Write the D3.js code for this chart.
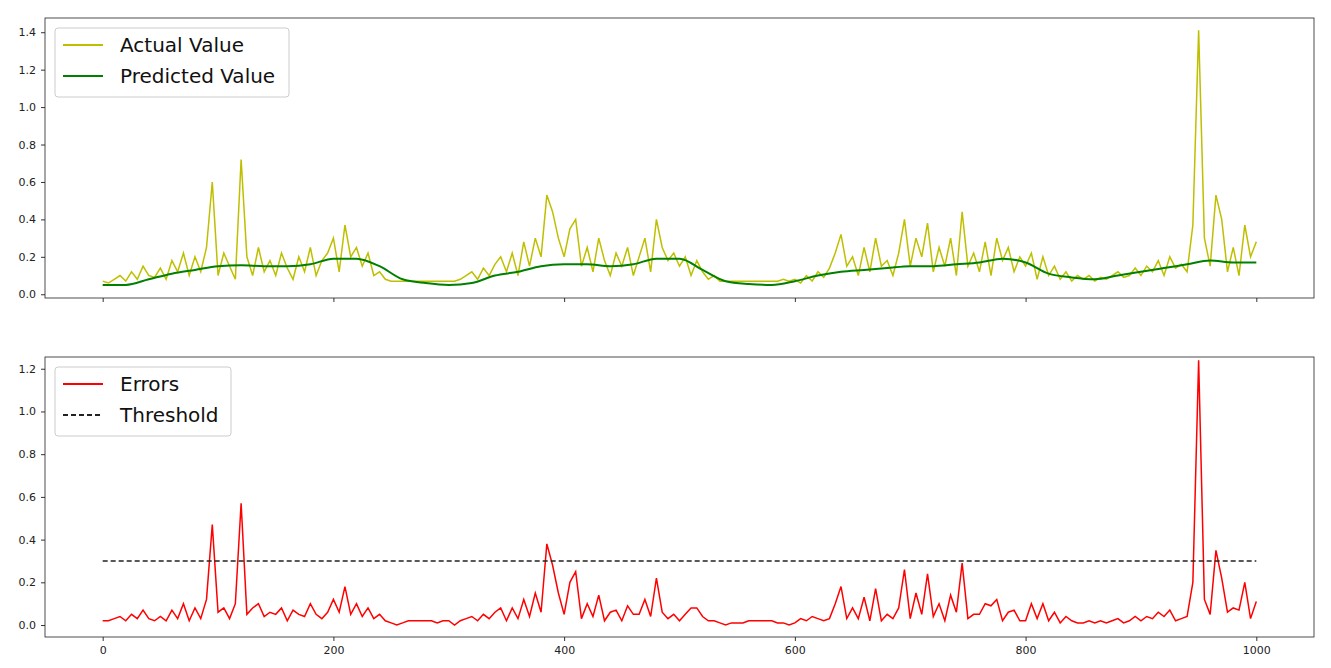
<!DOCTYPE html>
<html><head><meta charset="utf-8">
<script src="https://cdn.jsdelivr.net/npm/d3@7"></script>
<style>body{margin:0;background:#fff;font-family:"DejaVu Sans",sans-serif}</style>
</head><body><svg width="1331" height="668"></svg>
<script>
// values sampled every 5 steps (actual, errors) and every 20 steps (predicted)
const actual = [
.07,.06,.08,.1,.07,.12,.08,.15,.1,.09,
.14,.08,.18,.12,.22,.1,.2,.12,.25,.6,
.1,.22,.15,.08,.72,.2,.1,.25,.12,.18,
.1,.22,.14,.08,.2,.12,.25,.1,.18,.22,
.3,.12,.37,.2,.25,.15,.22,.1,.12,.08,
.07,.07,.07,.07,.07,.07,.07,.07,.07,.07,
.07,.07,.08,.1,.12,.08,.14,.1,.16,.2,
.12,.22,.1,.28,.15,.3,.2,.53,.44,.3,
.2,.35,.4,.15,.25,.12,.3,.18,.1,.22,
.15,.25,.1,.2,.3,.12,.4,.25,.18,.22,
.15,.2,.1,.18,.12,.08,.1,.07,.07,.07,
.07,.07,.07,.07,.07,.07,.07,.07,.08,.07,
.08,.06,.1,.07,.12,.09,.14,.22,.32,.15,
.2,.1,.25,.12,.3,.15,.18,.1,.22,.4,
.15,.3,.2,.38,.12,.25,.15,.3,.1,.44,
.15,.22,.12,.28,.1,.3,.18,.25,.12,.2,
.15,.22,.08,.2,.1,.15,.08,.12,.07,.1,
.08,.1,.07,.09,.08,.1,.12,.09,.1,.14,
.1,.15,.12,.18,.1,.2,.14,.16,.12,.37,
1.41,.3,.15,.53,.4,.12,.25,.1,.37,.2,
.28];
const predicted = [.05,.05,.08,.11,.13,.15,.155,.15,.15,.16,.19,.19,.15,.08,.06,.05,.06,.1,.12,.15,
.16,.16,.15,.16,.19,.19,.13,.07,.055,.05,.07,.1,.12,.13,.14,.15,.15,.16,.17,.19,
.17,.11,.09,.08,.1,.12,.14,.16,.18,.17,.17];
const errors = [
.02,.02,.03,.04,.02,.05,.03,.07,.03,.02,
.04,.02,.07,.03,.1,.02,.08,.03,.12,.47,
.06,.08,.03,.1,.57,.05,.08,.1,.04,.06,
.05,.08,.02,.07,.05,.04,.1,.05,.03,.06,
.12,.06,.18,.05,.1,.04,.08,.03,.05,.02,
.01,.0,.01,.02,.02,.02,.02,.02,.01,.02,
.02,.0,.02,.03,.04,.02,.05,.03,.06,.08,
.02,.08,.03,.12,.04,.15,.06,.38,.28,.15,
.05,.2,.25,.03,.1,.04,.14,.02,.06,.07,
.02,.09,.05,.05,.12,.04,.22,.06,.03,.05,
.02,.05,.08,.08,.04,.02,.02,.01,.0,.01,
.01,.01,.02,.02,.02,.02,.02,.01,.01,.0,
.01,.03,.02,.04,.03,.02,.03,.1,.18,.03,
.08,.03,.13,.02,.17,.02,.05,.03,.08,.26,
.03,.15,.05,.24,.04,.1,.02,.14,.06,.29,
.03,.05,.05,.1,.09,.12,.02,.06,.07,.02,
.02,.1,.03,.1,.02,.06,.01,.04,.02,.01,
.01,.02,.01,.02,.01,.02,.03,.01,.02,.04,
.02,.04,.03,.06,.04,.07,.02,.03,.04,.2,
1.24,.12,.05,.35,.22,.06,.08,.07,.2,.03,
.11];
const threshold = 0.3;
const xTicks = [0,200,400,600,800,1000];
const topTicks = [0,0.2,0.4,0.6,0.8,1.0,1.2,1.4];
const botTicks = [0,0.2,0.4,0.6,0.8,1.0,1.2];

const svg = d3.select('svg');
const L = 45, R = 1314;
const x = d3.scaleLinear().domain([-50,1050]).range([L,R]);

function panel(top, bottom, domain, ticks, showLabels){
  const y = d3.scaleLinear().domain(domain).range([bottom, top]);
  const g = svg.append('g');
  const ax = g.append('g').attr('transform', `translate(0,${bottom})`)
    .call(d3.axisBottom(x).tickValues(xTicks).tickSize(4).tickPadding(5).tickFormat(showLabels ? d3.format('d') : ''));
  const ay = g.append('g').attr('transform', `translate(${L},0)`)
    .call(d3.axisLeft(y).tickValues(ticks).tickSize(4).tickPadding(5).tickFormat(d3.format('.1f')));
  [ax, ay].forEach(a => { a.select('.domain').remove(); a.selectAll('text').attr('font-size', 11).attr('fill', '#222').attr('font-family','DejaVu Sans'); a.selectAll('line').attr('stroke','#333'); });
  g.append('rect').attr('x', L).attr('y', top).attr('width', R - L).attr('height', bottom - top)
    .attr('fill', 'none').attr('stroke', '#222').attr('stroke-width', 0.8);
  return {g, y};
}

function legend(g, x0, y0, w, items){
  const lg = g.append('g').attr('transform', `translate(${x0},${y0})`);
  lg.append('rect').attr('width', w).attr('height', 69).attr('rx', 3)
    .attr('fill', '#fff').attr('fill-opacity', 0.8).attr('stroke', '#ccc');
  items.forEach((it, i) => {
    const cy = 17 + i * 31;
    lg.append('line').attr('x1', 8).attr('x2', 48).attr('y1', cy).attr('y2', cy)
      .attr('stroke', it.c).attr('stroke-width', 2).attr('stroke-dasharray', it.d || null);
    lg.append('text').attr('x', 65).attr('y', cy + 7).attr('font-size', 20).attr('fill', '#111').text(it.t);
  });
}

const line = y => d3.line().x(d => x(d[0])).y(d => y(d[1]));

const p1 = panel(18, 298, [-0.02, 1.476], topTicks, false);
p1.g.append('path').datum(actual.map((v, i) => [i * 5, v])).attr('d', line(p1.y))
  .attr('fill', 'none').attr('stroke', '#bfbf00').attr('stroke-width', 1.5);
p1.g.append('path').datum(predicted.map((v, i) => [i * 20, v])).attr('d', line(p1.y).curve(d3.curveMonotoneX))
  .attr('fill', 'none').attr('stroke', 'green').attr('stroke-width', 2);
legend(p1.g, 55, 28, 234, [{t:'Actual Value', c:'#bfbf00'}, {t:'Predicted Value', c:'green'}]);

const p2 = panel(357, 637, [-0.056, 1.255], botTicks, true);
p2.g.append('path').datum(errors.map((v, i) => [i * 5, v])).attr('d', line(p2.y))
  .attr('fill', 'none').attr('stroke', 'red').attr('stroke-width', 1.5);
p2.g.append('path').datum([[0, threshold], [1000, threshold]]).attr('d', line(p2.y))
  .attr('fill', 'none').attr('stroke', '#222').attr('stroke-width', 1.5).attr('stroke-dasharray', '5,3');
legend(p2.g, 55, 367, 176, [{t:'Errors', c:'red'}, {t:'Threshold', c:'#222', d:'5,3'}]);
</script></body></html>
